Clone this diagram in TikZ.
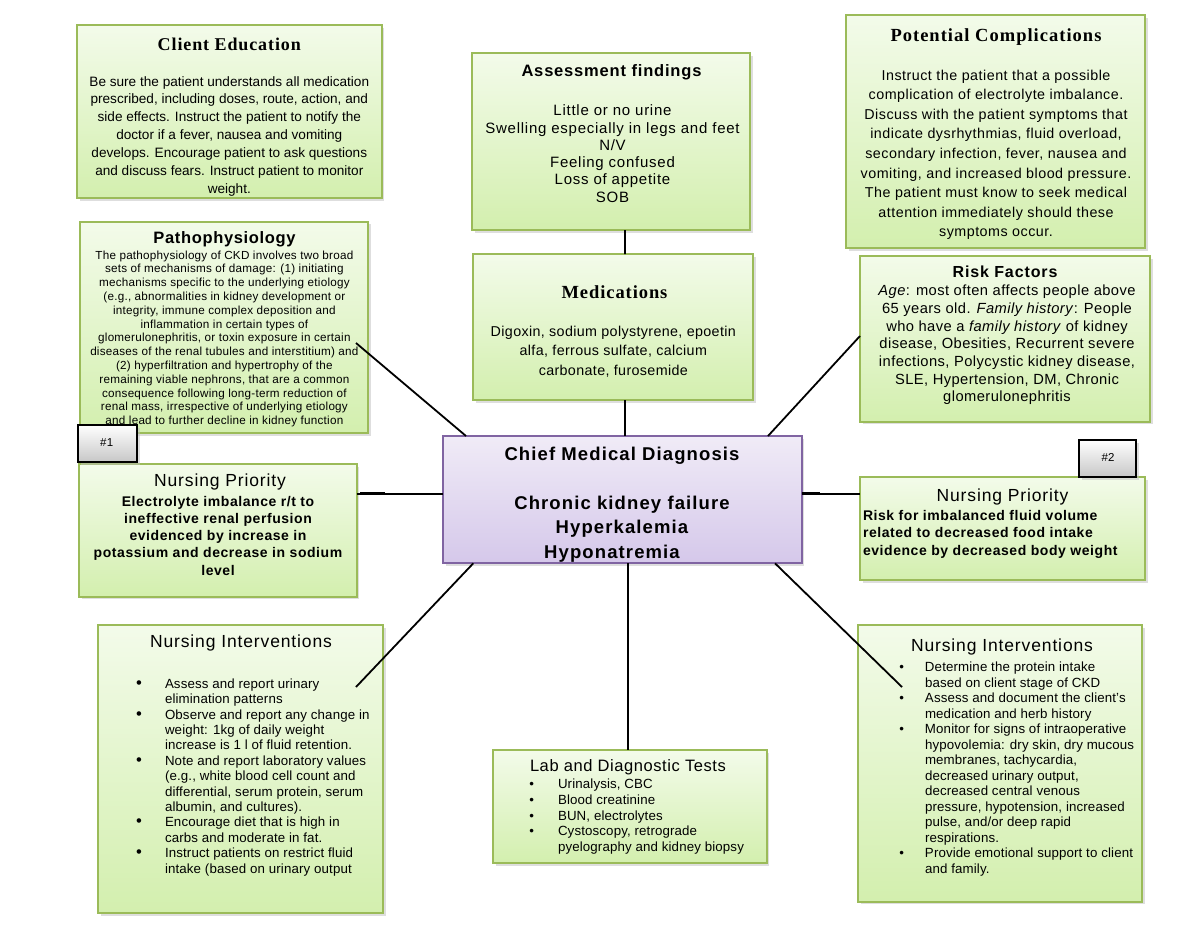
\documentclass[tikz,border=0pt]{standalone}
\usepackage{fontspec}
\setmainfont{Liberation Sans}
\newfontfamily\tms{Liberation Serif}
\usetikzlibrary{calc,shadows}
\definecolor{gtop}{HTML}{F3FBEA}
\definecolor{gbot}{HTML}{D3EFAE}
\definecolor{gborder}{HTML}{9BBB59}
\definecolor{ptop}{HTML}{F0EBF7}
\definecolor{pbot}{HTML}{D5C8EA}
\definecolor{pborder}{HTML}{8064A2}
\newcommand\fs[3]{\fontsize{#1}{#2}\selectfont\addfontfeatures{LetterSpace=#3}}
\newcommand\bx[6]{\node[#1, minimum width={(#5-#3)*1pt}, minimum height={(#6-#4)*1pt}] (#2) at (#3,#4) {};}
\newcommand\blt{\makebox[29pt][l]{\scalebox{1.25}{\textbullet}}}
\begin{document}
\begin{tikzpicture}[x=1pt,y=-1pt,
  gbox/.style={draw=gborder, line width=1.8pt, top color=gtop, bottom color=gbot,
    drop shadow={shadow xshift=2.5pt,shadow yshift=-2.5pt,fill=black!25},
    inner sep=0, outer sep=0, anchor=north west},
  pbox/.style={gbox, draw=pborder, top color=ptop, bottom color=pbot},
  nbox/.style={gbox, draw=black, top color=white, bottom color=black!22},
  txt/.style={inner sep=0, outer sep=0, anchor=base},
  ltxt/.style={txt, anchor=base west},
  conn/.style={draw=black, line width=1.8pt}]
\useasboundingbox (0,0) rectangle (1200,927);
\fill[white] (0,0) rectangle (1200,927);

% boxes
\bx{gbox}{ce}{77}{25}{381.7}{198}
\bx{gbox}{assess}{472.3}{53.3}{750}{230}
\bx{gbox}{pc}{846}{15}{1145}{248}
\bx{gbox}{patho}{80}{221.7}{368}{433}
\bx{gbox}{meds}{473.3}{254}{753.3}{400}
\bx{gbox}{risk}{860}{256}{1150}{421.7}
\bx{gbox}{npl}{79}{464.3}{356.7}{596.7}
\bx{pbox}{chief}{443.3}{436}{801.7}{563.3}
\bx{gbox}{npr}{860}{477.3}{1145}{580}
\bx{gbox}{nil}{98.3}{625}{383.3}{913.3}
\bx{gbox}{lab}{493.3}{750}{766.7}{863}
\bx{gbox}{nir}{858}{625}{1142}{901.7}

% connectors
\draw[conn] ($(assess.south)+(13.8,0)$) -- ($(meds.north)+(11.7,0)$);
\draw[conn] ($(meds.south)+(11.7,0)$) -- ($(chief.north)+(2.5,0)$);
\coordinate (pA) at (356,343);
\draw[conn] (pA) -- ($(chief.north west)+(22.7,0)$);
\draw[conn] ($(risk.north west)+(0,80)$) -- ($(chief.north east)+(-33.7,0)$);
\draw[conn] ($(npl.north east)+(0,29.7)$) -- ($(chief.north west)+(0,58)$);
\draw[line width=3.2pt] ($(npl.north east)+(3.3,29)$) -- ($(npl.north east)+(28.3,29)$);
\draw[conn] ($(chief.north east)+(0,58)$) -- ($(npr.north west)+(0,16.7)$);
\draw[line width=3.2pt] ($(chief.north east)+(0,57.3)$) -- ($(chief.north east)+(18,57.3)$);
\coordinate (niA) at (356,687);
\draw[conn] ($(chief.south west)+(30,0)$) -- (niA);
\draw[conn] ($(chief.south)+(5.5,0)$) -- ($(lab.north)+(-2,0)$);
\coordinate (niB) at (902,687);
\draw[conn] ($(chief.south east)+(-26.7,0)$) -- (niB);

% Client Education
\node[txt] (tce) at (229.3,50) {\tms\bfseries\fs{18}{20}{5}Client Education};
\node[txt] (bce) at (229.3,86) {\parbox[t]{330pt}{\centering\fs{13.6}{17.9}{0}Be sure the patient understands all medication\\
prescribed, including doses, route, action, and\\
side effects. Instruct the patient to notify the\\
doctor if a fever, nausea and vomiting\\
develops. Encourage patient to ask questions\\
and discuss fears. Instruct patient to monitor\\
weight.}};

% Assessment findings
\node[txt] (tas) at (611.5,76) {\bfseries\fs{16.5}{18}{5}Assessment findings};
\node[txt] (bas) at (612.5,115.7) {\parbox[t]{330pt}{\centering\fs{15}{17.3}{5}Little or no urine\\
Swelling especially in legs and feet\\
N/V\\
Feeling confused\\
Loss of appetite\\
SOB}};

% Potential Complications
\node[txt] (tpc) at (996,41.7) {\tms\bfseries\fs{18.5}{20}{5.5}Potential Complications};
\node[txt] (bpc) at (996,80) {\parbox[t]{330pt}{\centering\fs{14.3}{19.6}{3.5}Instruct the patient that a possible\\
complication of electrolyte imbalance.\\
Discuss with the patient symptoms that\\
indicate dysrhythmias, fluid overload,\\
secondary infection, fever, nausea and\\
vomiting, and increased blood pressure.\\
The patient must know to seek medical\\
attention immediately should these\\
symptoms occur.}};

% Pathophysiology
\node[txt] (tpa) at (224.5,243.3) {\bfseries\fs{16.5}{18}{4}Pathophysiology};
\node[txt] (bpa) at (224.4,259) {\parbox[t]{330pt}{\centering\fs{11.7}{13.8}{2}The pathophysiology of CKD involves two broad\\
sets of mechanisms of damage: (1) initiating\\
mechanisms specific to the underlying etiology\\
(e.g., abnormalities in kidney development or\\
integrity, immune complex deposition and\\
inflammation in certain types of\\
glomerulonephritis, or toxin exposure in certain\\
diseases of the renal tubules and interstitium) and\\
(2) hyperfiltration and hypertrophy of the\\
remaining viable nephrons, that are a common\\
consequence following long-term reduction of\\
renal mass, irrespective of underlying etiology\\
and lead to further decline in kidney function}};

% Medications
\node[txt] (tme) at (614.5,298.3) {\tms\bfseries\fs{18.5}{20}{5}Medications};
\node[txt] (bme) at (613.3,336) {\parbox[t]{330pt}{\centering\fs{14.3}{19.5}{2.5}Digoxin, sodium polystyrene, epoetin\\
alfa, ferrous sulfate, calcium\\
carbonate, furosemide}};

% Risk Factors
\node[txt] (tri) at (1005,277.7) {\bfseries\fs{16}{18}{5.5}Risk Factors};
\node[txt] (bri) at (1007,295.7) {\parbox[t]{330pt}{\centering\fs{14.7}{17.7}{3}\textit{Age}: most often affects people above\\
65 years old. \textit{Family history}: People\\
who have a \textit{family history} of kidney\\
disease, Obesities, Recurrent severe\\
infections, Polycystic kidney disease,\\
SLE, Hypertension, DM, Chronic\\
glomerulonephritis}};

% Nursing Priority left
\node[txt] (tnpl) at (220,486.7) {\fs{17.5}{18}{5}Nursing Priority};
\node[txt] (bnpl) at (218,506) {\parbox[t]{330pt}{\centering\bfseries\fs{14}{17.25}{4}Electrolyte imbalance r/t to\\
ineffective renal perfusion\\
evidenced by increase in\\
potassium and decrease in sodium\\
level}};

% Chief Medical Diagnosis
\node[txt] (tch) at (622,460) {\parbox[t]{350pt}{\centering\bfseries\fs{18.5}{24.5}{6}Chief Medical Diagnosis\\
\mbox{}\\
Chronic kidney failure\\
Hyperkalemia\hspace*{14pt}\\
Hyponatremia\hspace*{20pt}}};

% Nursing Priority right
\node[txt] (tnpr) at (1002.5,501.7) {\fs{17.5}{18}{5}Nursing Priority};
\node[ltxt] (bnpr) at (863,520) {\parbox[t]{300pt}{\raggedright\bfseries\fs{14}{17.5}{4}Risk for imbalanced fluid volume\\
related to decreased food intake\\
evidence by decreased body weight}};

% Nursing Interventions left
\node[txt] (tnil) at (241,647.7) {\fs{17.5}{18}{5}Nursing Interventions};
\node[ltxt] (bnil) at (136,688.3) {\fs{13.3}{15.4}{1}\begin{tabular}[t]{@{}l@{}l@{}}
\blt & Assess and report urinary\\
 & elimination patterns\\
\blt & Observe and report any change in\\
 & weight: 1kg of daily weight\\
 & increase is 1 l of fluid retention.\\
\blt & Note and report laboratory values\\
 & (e.g., white blood cell count and\\
 & differential, serum protein, serum\\
 & albumin, and cultures).\\
\blt & Encourage diet that is high in\\
 & carbs and moderate in fat.\\
\blt & Instruct patients on restrict fluid\\
 & intake (based on urinary output
\end{tabular}};

% Lab and Diagnostic Tests
\node[ltxt] (tlab) at (530,771.7) {\fs{16.5}{18}{3.5}Lab and Diagnostic Tests};
\node[ltxt] (blab) at (529.4,788.3) {\fs{13.3}{15.85}{1}\begin{tabular}[t]{@{}l@{}l@{}}
\makebox[28.6pt][l]{\textbullet} & Urinalysis, CBC\\
\makebox[28.6pt][l]{\textbullet} & Blood creatinine\\
\makebox[28.6pt][l]{\textbullet} & BUN, electrolytes\\
\makebox[28.6pt][l]{\textbullet} & Cystoscopy, retrograde\\
 & pyelography and kidney biopsy
\end{tabular}};

% Nursing Interventions right
\node[txt] (tnir) at (1002,651) {\fs{17.5}{18}{5}Nursing Interventions};
\node[ltxt] (bnir) at (899.4,671.7) {\fs{13.3}{15.5}{1}\begin{tabular}[t]{@{}l@{}l@{}}
\makebox[25.6pt][l]{\textbullet} & Determine the protein intake\\
 & based on client stage of CKD\\
\makebox[25.6pt][l]{\textbullet} & Assess and document the client's\\
 & medication and herb history\\
\makebox[25.6pt][l]{\textbullet} & Monitor for signs of intraoperative\\
 & hypovolemia: dry skin, dry mucous\\
 & membranes, tachycardia,\\
 & decreased urinary output,\\
 & decreased central venous\\
 & pressure, hypotension, increased\\
 & pulse, and/or deep rapid\\
 & respirations.\\
\makebox[25.6pt][l]{\textbullet} & Provide emotional support to client\\
 & and family.
\end{tabular}};

% numbered tags
\bx{nbox}{n1}{78}{425}{137}{462}
\bx{nbox}{n2}{1079}{440}{1136}{477}
\node[txt] (t1) at (106.7,446.7) {\fs{11.5}{13}{2}\#1};
\node[txt] (t2) at (1108,461.7) {\fs{11.5}{13}{2}\#2};
\end{tikzpicture}
\end{document}
